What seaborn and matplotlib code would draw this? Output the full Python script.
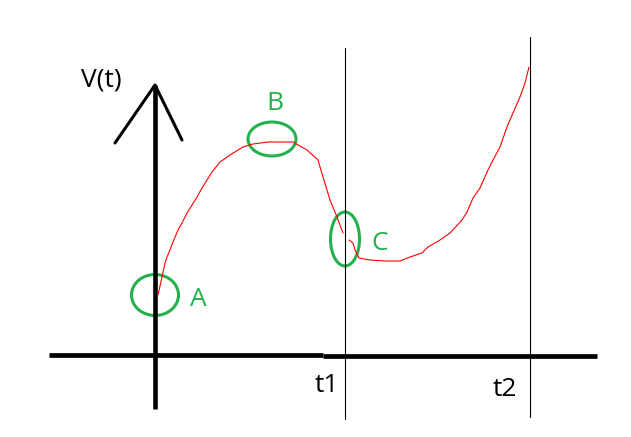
import pandas as pd
import matplotlib.pyplot as plt
import seaborn as sns
from matplotlib.patches import Ellipse

# === Curve V(t) (two strokes, broken at C) ===
t_first = [3, 7, 10, 12, 15, 18, 23, 27, 32, 37, 42, 47, 52, 57, 65, 75, 83, 88, 98,
           113, 138, 152, 163, 168, 175, 182, 188]
v_first = [60, 78, 92, 98, 105, 113, 125, 132, 142, 150, 158, 167, 175, 183, 193, 200, 205, 208, 211,
           213, 213, 205, 195, 178, 155, 138, 122]
t_second = [194, 198, 200, 204, 215, 230, 245, 255, 267, 273, 285, 295, 307, 312, 318,
            325, 333, 338, 345, 352, 358, 365, 370, 374]
v_second = [115, 112, 105, 97, 95, 94, 94, 98, 102, 108, 115, 122, 135, 143, 157,
            167, 185, 195, 208, 228, 242, 258, 272, 288]

# marked points
point_labels = ["A", "B", "C"]
point_t = [0, 117, 190]
point_v = [60, 216, 116]

# time markers
time_labels = ["t1", "t2"]
time_t = [190, 375]

df = pd.concat([
    pd.DataFrame({"t": t_first, "V": v_first, "stroke": 1}),
    pd.DataFrame({"t": t_second, "V": v_second, "stroke": 2}),
])

sns.set_theme(style="white")
plt.rcParams["font.family"] = ["Open Sans", "DejaVu Sans"]

fig = plt.figure(figsize=(6.31, 4.37), dpi=100)
ax = fig.add_axes([0, 0, 1, 1])

green = "#22b14c"

# hand drawn axes
ax.plot([-106, 168], [0.3, 0.3], color="black", lw=3.4, solid_capstyle="butt")
ax.plot([168, 442], [-1, -1], color="black", lw=3.4, solid_capstyle="butt")
ax.plot([0, 0], [-54, 270], color="black", lw=3.3, solid_capstyle="butt")
ax.plot([-40, 0, 27], [212, 270, 215], color="black", lw=2.2)

# thin verticals at t1, t2
ax.plot([time_t[0], time_t[0]], [-64, 307], color="black", lw=0.8)
ax.plot([time_t[1], time_t[1]], [-62, 318], color="black", lw=0.8)

sns.lineplot(data=df, x="t", y="V", units="stroke", estimator=None, sort=False,
             color="red", lw=0.8, ax=ax)
ax.set_xlim(-155, 476)
ax.set_ylim(-82, 355)
ax.axis("off")

# circles round the points
sizes = [(47, 41), (48, 34), (29, 54)]
offsets = [(43, -4), (3, 35), (35, -4)]
for lab, t, v, (w, h), (dx, dy) in zip(point_labels, point_t, point_v, sizes, offsets):
    ax.add_patch(Ellipse((t, v), w, h, fill=False, ec=green, lw=2.2))
    ax.text(t + dx, v + dy, lab, color=green, fontsize=19, ha="center", va="center")

ax.text(-54, 275, "V(t)", fontsize=19, ha="center", va="center", color="black")
ax.text(172, -30, time_labels[0], fontsize=19, ha="center", va="center", color="black")
ax.text(350, -34, time_labels[1], fontsize=19, ha="center", va="center", color="black")

plt.savefig("out.png", dpi=100)
plt.close()
